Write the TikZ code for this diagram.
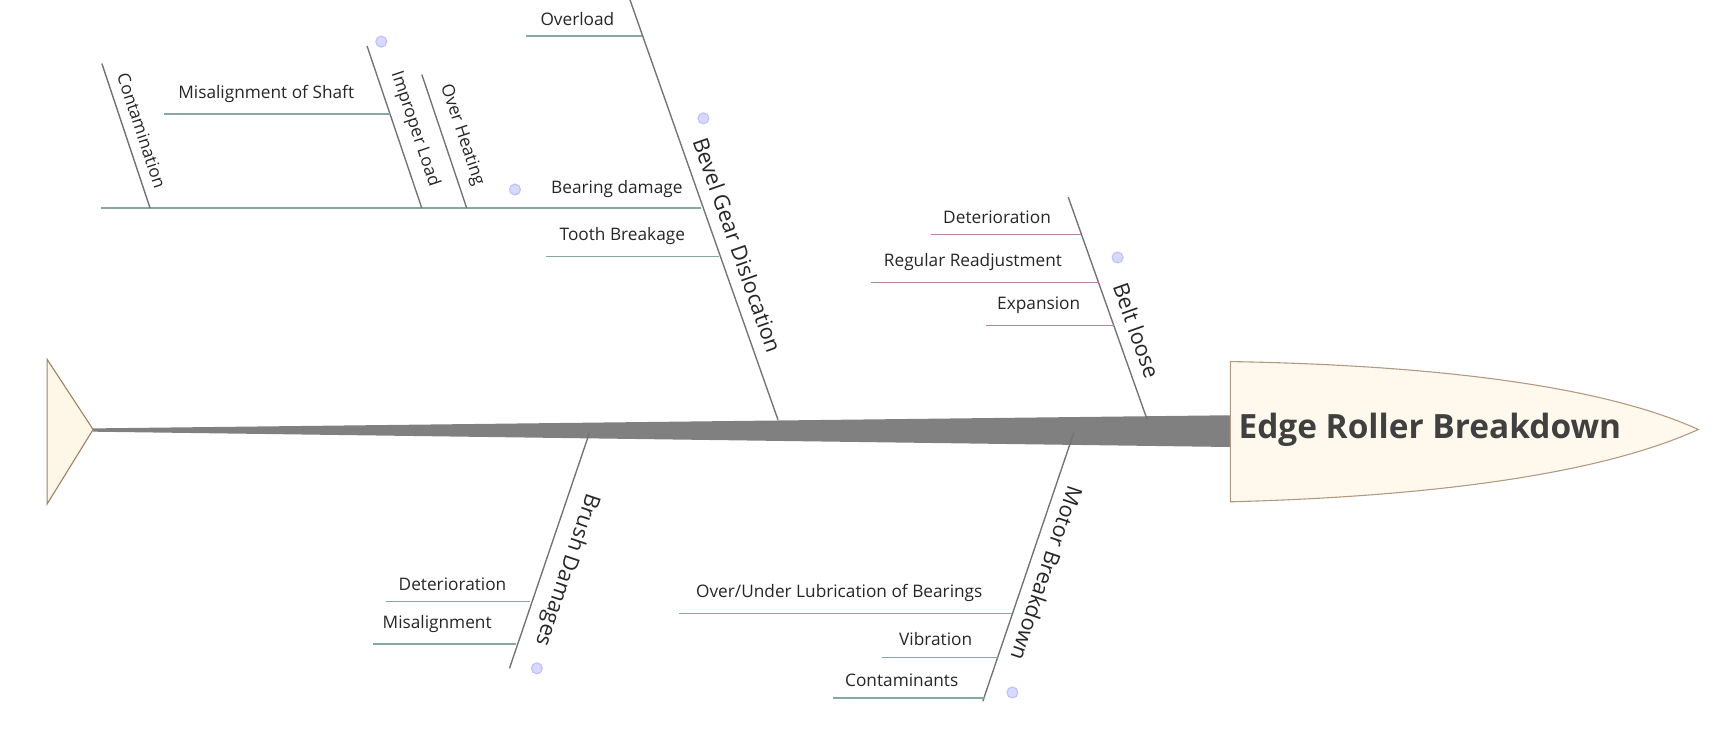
\documentclass[tikz,border=0pt]{standalone}
\usepackage{fontspec}
\setmainfont{Open Sans}
\usetikzlibrary{calc}
\begin{document}
\begin{tikzpicture}[x=0.4pt,y=-0.4pt,
  lbl/.style={font=\fontsize{6.3}{7}\selectfont, text=black!85, inner sep=1pt},
  rlbl/.style={lbl, inner sep=3.5pt},
  big/.style={font=\fontsize{7.9}{9}\selectfont, text=black!85, inner sep=4pt},
  bone/.style={draw=black!55, line width=0.5pt},
  tw/.style={draw=teal!35!gray!70, line width=0.6pt},
  rw/.style={draw=purple!40!gray!70, line width=0.6pt},
  mini/.style={circle, fill=blue!15, draw=blue!25, inner sep=0pt, minimum size=4pt}]
\useasboundingbox (0,0) rectangle (1568,664.5);
% spine
\fill[black!50] (85,391) -- (1124,379) -- (1124,408) -- (85,394) -- cycle;
% tail
\draw[fill=yellow!22!orange!8!white, draw=brown!50!gray] (43,328) -- (85,392) -- (43,460) -- cycle;
% head
\draw[fill=yellow!25!orange!6!white, draw=brown!50!gray!80] (1123,330) .. controls (1350,334) and (1480,360) .. (1550,392) .. controls (1480,424) and (1350,452) .. (1123,458) -- cycle;
\node[font=\fontsize{12.2}{13}\selectfont\bfseries, text=black!75] (head) at (1305,392) {Edge Roller Breakdown};

% ---------- Bevel Gear Dislocation
\coordinate (bg1) at (575,0); \coordinate (bg2) at (710,383);
\draw[bone] (bg1) -- (bg2);
\node[big, rotate=-70.6, anchor=south] (bgl) at ($(bg1)!0.6!(bg2)$) {Bevel Gear Dislocation};
\node[mini] (bgc) at (642,108) {};
% Overload
\coordinate (ov1) at (480,33); \coordinate (ov2) at (586,33);
\draw[tw] (ov1) -- (ov2);
\node[lbl, anchor=south] (ovl) at (527,26) {Overload};
% Bearing damage
\coordinate (bd1) at (92,190); \coordinate (bd2) at (640,190);
\draw[tw] (bd1) -- (bd2);
\node[lbl, anchor=south] (bdl) at (563,183) {Bearing damage};
\node[mini] (bdc) at (470,173) {};
% Tooth Breakage
\coordinate (tb1) at (498,234); \coordinate (tb2) at (656,234);
\draw[tw] (tb1) -- (tb2);
\node[lbl, anchor=south] (tbl) at (568,226) {Tooth Breakage};
% Contamination
\coordinate (co1) at (93,58); \coordinate (co2) at (137,190);
\draw[bone] (co1) -- (co2);
\node[rlbl, rotate=-71.6, anchor=south] (col) at ($(co1)!0.5!(co2)$) {Contamination};
% Improper Load
\coordinate (il1) at (335,42); \coordinate (il2) at (385,190);
\draw[bone] (il1) -- (il2);
\node[rlbl, rotate=-71.3, anchor=south] (ill) at ($(il1)!0.55!(il2)$) {Improper Load};
\node[mini] (ilc) at (348,38) {};
% Misalignment of Shaft
\coordinate (ms1) at (150,104); \coordinate (ms2) at (356,104);
\draw[tw] (ms1) -- (ms2);
\node[lbl, anchor=south] (msl) at (243,97) {Misalignment of Shaft};
% Over Heating
\coordinate (oh1) at (385,68); \coordinate (oh2) at (426,190);
\draw[bone] (oh1) -- (oh2);
\node[rlbl, rotate=-71.4, anchor=south] (ohl) at ($(oh1)!0.5!(oh2)$) {Over Heating};

% ---------- Belt loose
\coordinate (bl1) at (975,180); \coordinate (bl2) at (1047,383);
\draw[bone] (bl1) -- (bl2);
\node[big, rotate=-70.5, anchor=south] (bll) at ($(bl1)!0.63!(bl2)$) {Belt loose};
\node[mini] (blc) at (1020,235) {};
\coordinate (de1) at (850,214); \coordinate (de2) at (987,214);
\draw[rw] (de1) -- (de2);
\node[lbl, anchor=south] (del) at (910,207) {Deterioration};
\coordinate (rr1) at (795,258); \coordinate (rr2) at (1003,258);
\draw[rw] (rr1) -- (rr2);
\node[lbl, anchor=south] (rrl) at (888,250) {Regular Readjustment};
\coordinate (ex1) at (900,297); \coordinate (ex2) at (1017,297);
\draw[rw] (ex1) -- (ex2);
\node[lbl, anchor=south] (exl) at (948,289) {Expansion};

% ---------- Brush Damages
\coordinate (br1) at (538,395); \coordinate (br2) at (465,610);
\draw[bone] (br1) -- (br2);
\node[big, rotate=-108.7, anchor=south] (brl) at ($(br1)!0.55!(br2)$) {Brush Damages};
\node[mini] (brc) at (490,610) {};
\coordinate (bde1) at (352,549); \coordinate (bde2) at (484,549);
\draw[tw] (bde1) -- (bde2);
\node[lbl, anchor=south] (bdel) at (413,542) {Deterioration};
\coordinate (bmi1) at (340,588); \coordinate (bmi2) at (471,588);
\draw[tw] (bmi1) -- (bmi2);
\node[lbl, anchor=south] (bmil) at (399,580) {Misalignment};

% ---------- Motor Breakdown
\coordinate (mb1) at (980,395); \coordinate (mb2) at (897,640);
\draw[bone] (mb1) -- (mb2);
\node[big, rotate=-108.7, anchor=south] (mbl) at ($(mb1)!0.5!(mb2)$) {Motor Breakdown};
\node[mini] (mbc) at (924,632) {};
\coordinate (ou1) at (620,560); \coordinate (ou2) at (924,560);
\draw[tw] (ou1) -- (ou2);
\node[lbl, anchor=south] (oul) at (766,552) {Over/Under Lubrication of Bearings};
\coordinate (vi1) at (805,600); \coordinate (vi2) at (911,600);
\draw[tw] (vi1) -- (vi2);
\node[lbl, anchor=south] (vil) at (854,592) {Vibration};
\coordinate (ct1) at (760,637); \coordinate (ct2) at (899,637);
\draw[tw] (ct1) -- (ct2);
\node[lbl, anchor=south] (ctl) at (823,630) {Contaminants};
\end{tikzpicture}
\end{document}
